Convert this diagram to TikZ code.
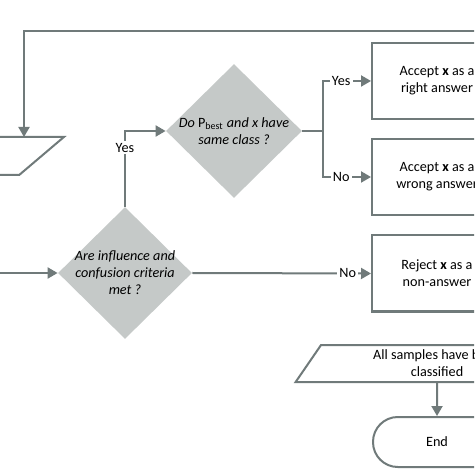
\documentclass[tikz,border=0pt]{standalone}
\usepackage{fontspec}
\setmainfont{Carlito}
\usepackage{tikz}
\usetikzlibrary{arrows.meta,positioning,shapes.geometric}
\definecolor{flowline}{RGB}{112,122,122}
\definecolor{flowfill}{RGB}{197,201,200}

\begin{document}
\begin{tikzpicture}[x=0.5pt, y=-0.5pt, font=\fontsize{7.1}{8.5}\selectfont,
      line/.style={draw=flowline, line width=1pt},
      arr/.style={line, -{Triangle[length=5pt, width=5.5pt]}},
      box/.style={draw=flowline, line width=1pt, minimum width=65pt, minimum height=38pt, align=center, inner sep=0pt},
      decision/.style={diamond, fill=flowfill, inner sep=0pt},
      dtext/.style={font=\fontsize{7.1}{8.5}\selectfont\itshape, align=center},
      io/.style={trapezium, trapezium left angle=65, trapezium right angle=115, trapezium stretches=true,
                 draw=flowline, line width=1pt, inner sep=1pt, align=center},
      lab/.style={fill=white, inner sep=1pt}]
    \fill[white] (0,0) rectangle (474,474);
    \useasboundingbox (0,0) rectangle (474,474);
    \clip (0,0) rectangle (474,474);

    \node[io, minimum width=90pt, minimum height=19pt] (pick) at (-26,156) {\phantom{x}};
    \node[decision, minimum width=68pt, minimum height=67pt,
          label={[dtext]center:{Do \textup{P\textsubscript{best}} and x have\\same class ?}}] (same) at (234,131) {};
    \node[decision, minimum width=67pt, minimum height=66pt,
          label={[dtext]center:{Are influence and\\confusion criteria\\met ?}}] (infl) at (125,273) {};
    \foreach \cy/\txt/\nm in {81/{Accept \textbf{x} as a\\right answer}/right,
                              177/{Accept \textbf{x} as a\\wrong answer}/wrong,
                              273.5/{Reject \textbf{x} as a\\non-answer}/nonans} {
      \node[box] (\nm) at (437,\cy) {\txt};
    }
    \node[io, minimum width=142pt, minimum height=18.5pt] (done) at (437,363.5) {All samples have been\\classified};
    \node[box, rounded corners=12.4pt, minimum width=64pt, minimum height=25pt] (end) at (437,442) {End};

    \coordinate (looptop) at (490,31);
    \coordinate (loopin) at (24,137);
    \coordinate (feed) at (-10,273);
    \coordinate (split) at (323,131);

    \draw[arr] (looptop) -| (loopin);
    \draw[arr] (feed) -- (infl.west);
    \draw[arr] (infl.north) |- node[lab, pos=0.39] {Yes} (same.west);
    \draw[line] (same.east) -- (split);
    \draw[arr] (split) |- node[lab, pos=0.69] {Yes} (right.west);
    \draw[arr] (split) |- node[lab, pos=0.69] {No} (wrong.west);
    \draw[arr] (infl.east) -- node[lab, pos=0.87] {No} (nonans.west);
    \draw[arr] (done.south) -- (end.north);
  \end{tikzpicture}
\end{document}
